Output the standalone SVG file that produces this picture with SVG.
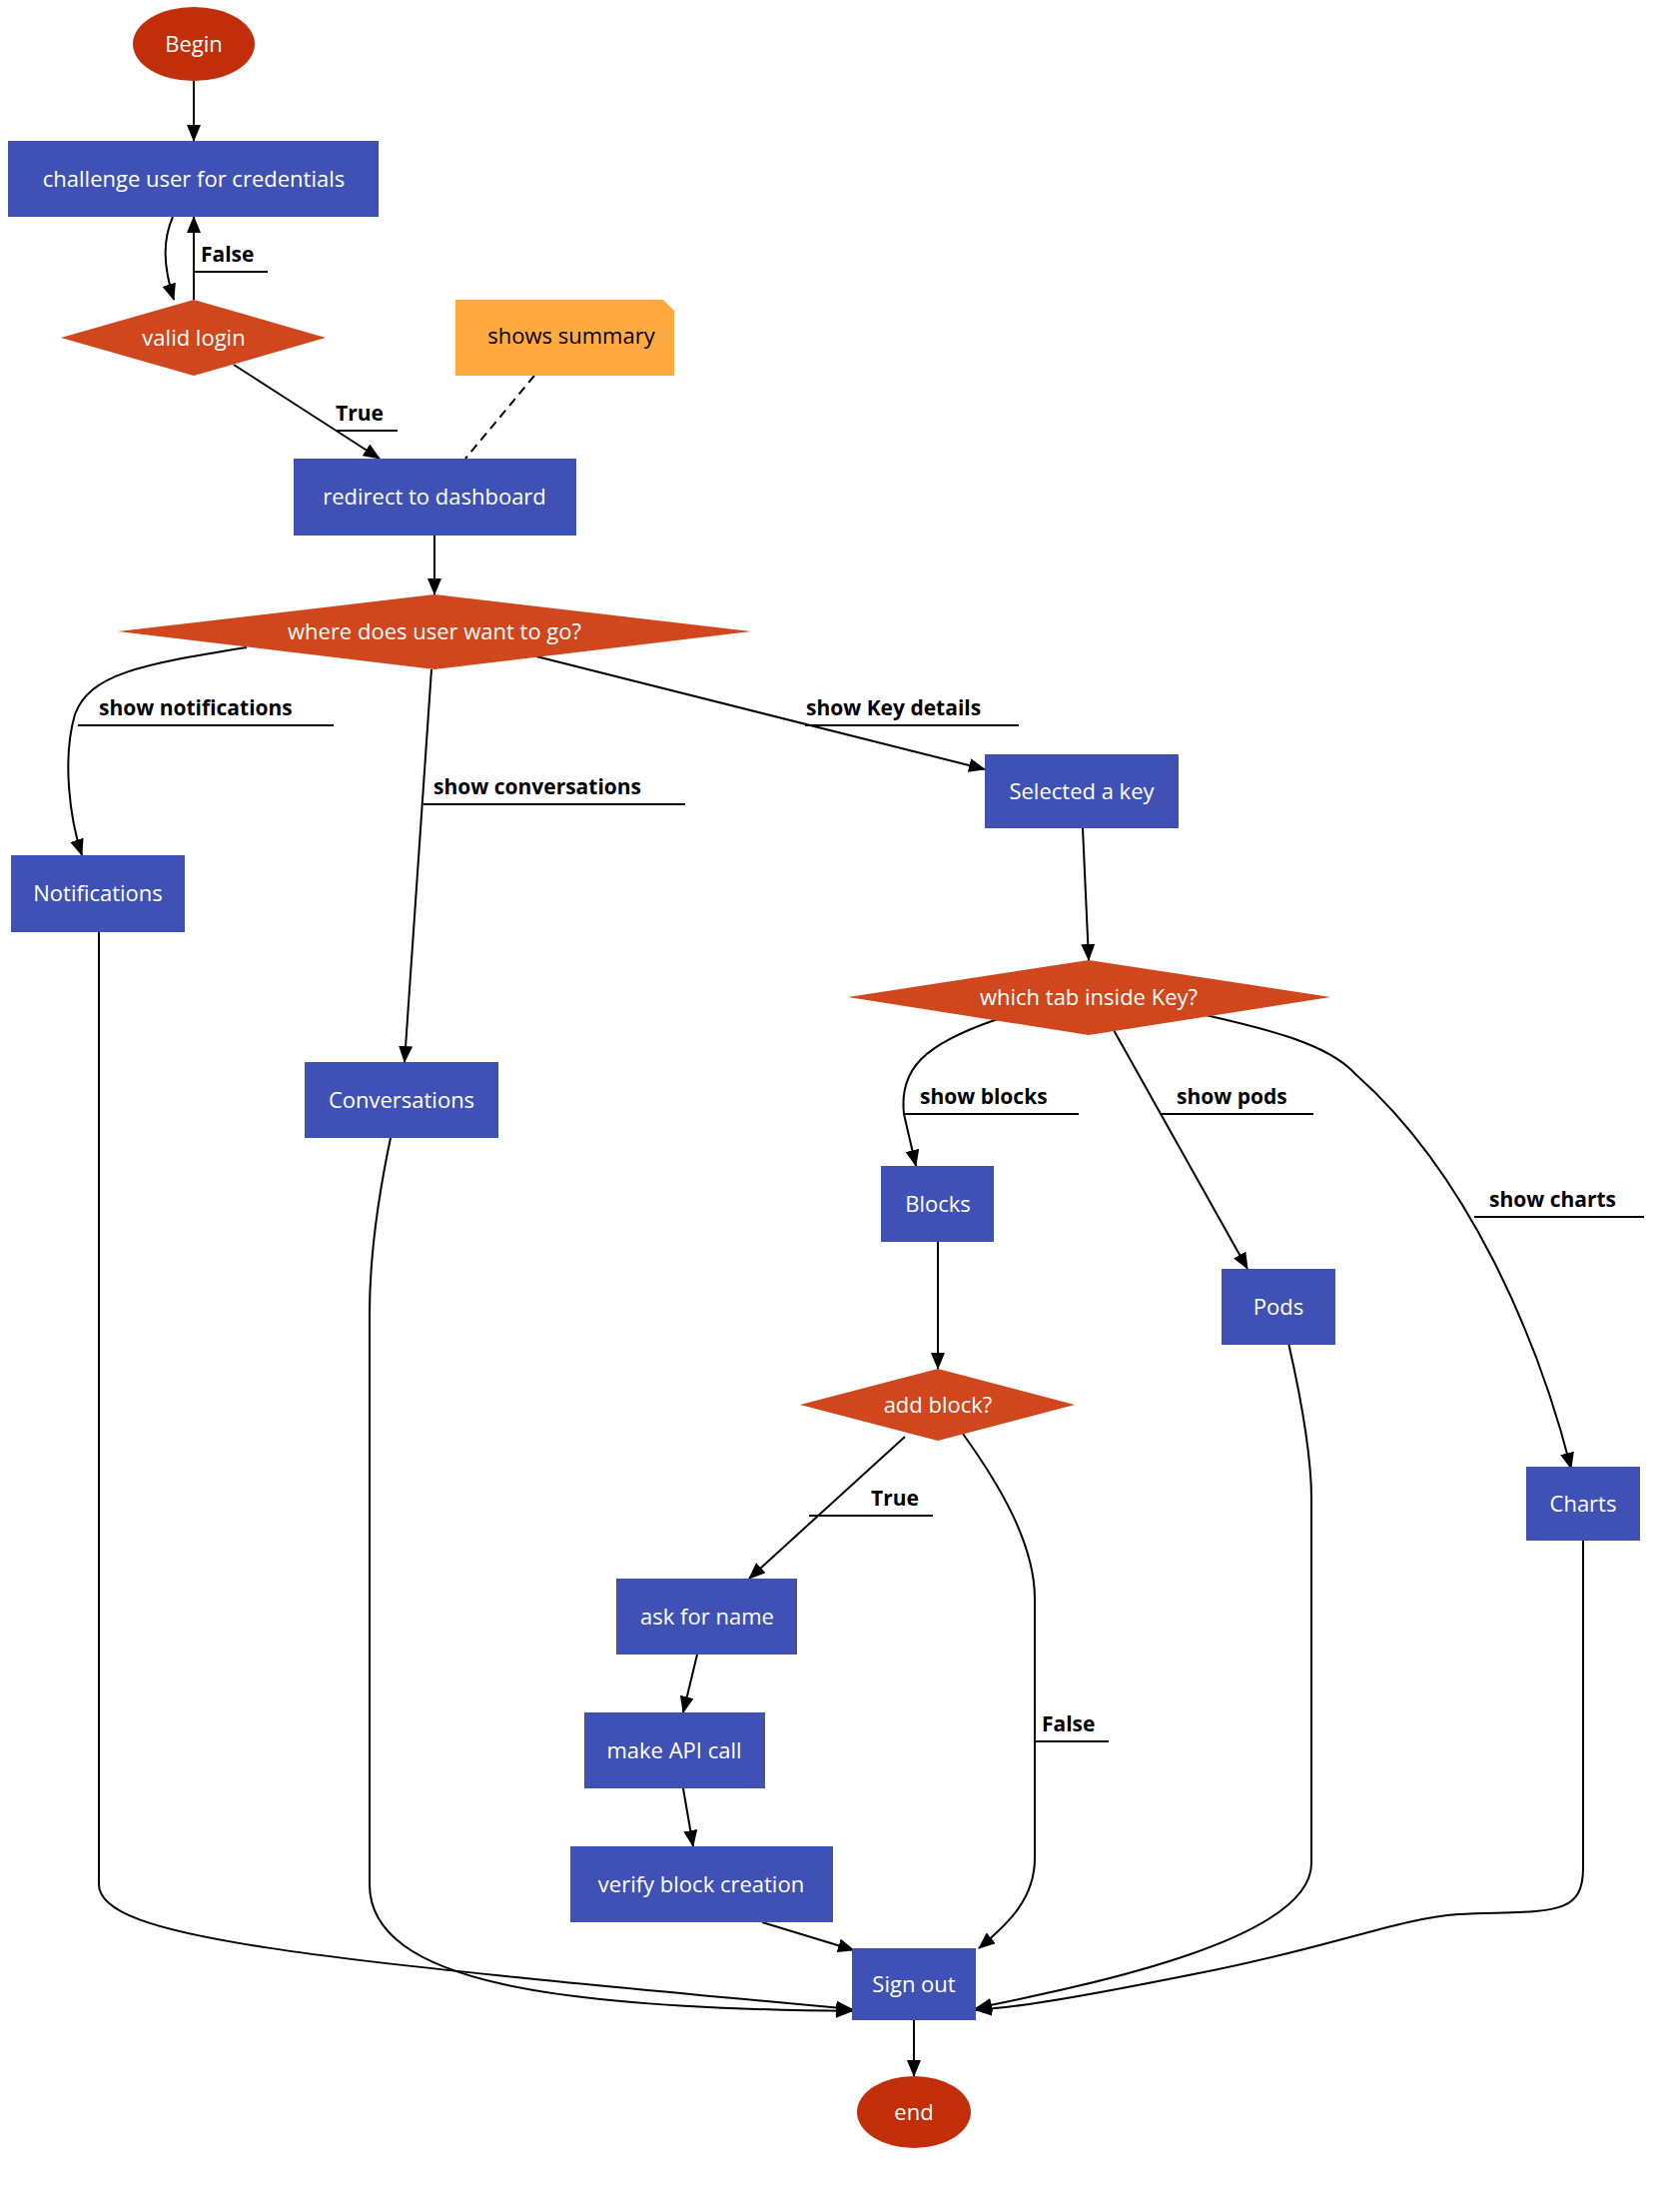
<svg xmlns="http://www.w3.org/2000/svg" width="1667" height="2214" viewBox="0 0 1667 2214">
<defs>
<marker id="ah" markerUnits="userSpaceOnUse" markerWidth="18" markerHeight="14" refX="16" refY="7" orient="auto"><path d="M0,0 L17,7 L0,14 Z" fill="#000"/></marker>
<style>
.box{fill:#4051b5}
.dia{fill:#d0471d}
.ell{fill:#c22e0a}
.t{font-family:"Open Sans","Noto Sans",sans-serif;font-size:22px;fill:#fff;text-anchor:middle}
.e{fill:none;stroke:#000;stroke-width:2;marker-end:url(#ah)}
.ul{stroke:#000;stroke-width:2}
.l{font-family:"Open Sans","Noto Sans",sans-serif;font-size:21px;font-weight:bold;fill:#000}
</style>
</defs>
<rect width="1667" height="2214" fill="#fff"/>
<g id="connectors">
<path class="e" d="M194,81 L194,141"/>
<path class="e" d="M173,217 C163,240 163,265 174,300"/>
<path class="e" d="M194,300 L194,217"/>
<text class="l" x="201" y="262">False</text><line class="ul" x1="194" y1="272" x2="268" y2="272"/>
<path class="e" d="M234,365 L380,459"/>
<text class="l" x="336" y="421">True</text><line class="ul" x1="336" y1="431" x2="398" y2="431"/>
<path d="M535,376 L466,459" fill="none" stroke="#000" stroke-width="2" stroke-dasharray="9,6"/>
<path class="e" d="M435,536 L435,595"/>
<path class="e" d="M247,648 C140,665 90,675 75,715 C62,760 70,820 82,856"/>
<text class="l" x="99" y="716">show notifications</text><line class="ul" x1="78" y1="726" x2="334" y2="726"/>
<path class="e" d="M432,670 L405,1063"/>
<text class="l" x="434" y="795">show conversations</text><line class="ul" x1="424" y1="805" x2="686" y2="805"/>
<path class="e" d="M537,657 L986,770"/>
<text class="l" x="807" y="716">show Key details</text><line class="ul" x1="806" y1="726" x2="1020" y2="726"/>
<path class="e" d="M1084,829 L1090,961"/>
<path class="e" d="M999,1020 C925,1045 900,1070 905,1115 L917,1167"/>
<text class="l" x="921" y="1105">show blocks</text><line class="ul" x1="905" y1="1115" x2="1080" y2="1115"/>
<path class="e" d="M1115,1031 L1249,1270"/>
<text class="l" x="1178" y="1105">show pods</text><line class="ul" x1="1163" y1="1115" x2="1315" y2="1115"/>
<path class="e" d="M1198,1014 C1270,1030 1330,1045 1357,1075 C1470,1175 1540,1340 1573,1470"/>
<text class="l" x="1491" y="1208">show charts</text><line class="ul" x1="1476" y1="1218" x2="1646" y2="1218"/>
<path class="e" d="M939,1243 L939,1370"/>
<path class="e" d="M906,1438 L750,1580"/>
<text class="l" x="872" y="1507">True</text><line class="ul" x1="810" y1="1517" x2="934" y2="1517"/>
<path class="e" d="M964,1435 C1000,1485 1036,1545 1036,1600 L1036,1860 C1036,1900 1010,1925 980,1950"/>
<text class="l" x="1043" y="1733">False</text><line class="ul" x1="1036" y1="1743" x2="1110" y2="1743"/>
<path class="e" d="M698,1656 L684,1714"/>
<path class="e" d="M684,1790 L694,1848"/>
<path class="e" d="M763,1924 L855,1952"/>
<path class="e" d="M99,933 L99,1886 C99,1940 300,1960 853,2011"/>
<path class="e" d="M391,1139 C375,1215 370,1270 370,1315 L370,1886 C370,1985 560,2010 853,2013"/>
<path class="e" d="M1290,1344 C1305,1410 1313,1460 1313,1500 L1313,1865 C1313,1940 1100,1985 977,2010"/>
<path class="e" d="M1585,1540 L1585,1870 C1585,1920 1550,1912 1460,1916 C1400,1920 1330,1950 1200,1975 C1100,1995 1030,2008 977,2012"/>
<path class="e" d="M915,2022 L915,2078"/>
</g>
<g id="begin"><ellipse class="ell" cx="194" cy="44" rx="61" ry="37"/><text class="t" x="194" y="52">Begin</text></g>
<g id="challenge"><rect class="box" x="8" y="141" width="371" height="76"/><text class="t" x="194" y="187">challenge user for credentials</text></g>
<g id="valid"><polygon class="dia" points="61,338 194,300 326,338 194,376"/><text class="t" x="194" y="346">valid login</text></g>
<g id="note"><path d="M456,300 L664,300 L675,311 L675,376 L456,376 Z" fill="#ffaa40"/><text class="t" x="572" y="344" style="fill:#000">shows summary</text></g>
<g id="redirect"><rect class="box" x="294" y="459" width="283" height="77"/><text class="t" x="435" y="505">redirect to dashboard</text></g>
<g id="where"><polygon class="dia" points="118,632 435,595 752,632 435,670"/><text class="t" x="435" y="640">where does user want to go?</text></g>
<g id="notifications"><rect class="box" x="11" y="856" width="174" height="77"/><text class="t" x="98" y="902">Notifications</text></g>
<g id="conversations"><rect class="box" x="305" y="1063" width="194" height="76"/><text class="t" x="402" y="1109">Conversations</text></g>
<g id="selected"><rect class="box" x="986" y="755" width="194" height="74"/><text class="t" x="1083" y="800">Selected a key</text></g>
<g id="which"><polygon class="dia" points="849,998 1090,961 1332,998 1090,1036"/><text class="t" x="1090" y="1006">which tab inside Key?</text></g>
<g id="blocks"><rect class="box" x="882" y="1167" width="113" height="76"/><text class="t" x="939" y="1213">Blocks</text></g>
<g id="pods"><rect class="box" x="1223" y="1270" width="114" height="76"/><text class="t" x="1280" y="1316">Pods</text></g>
<g id="charts"><rect class="box" x="1528" y="1468" width="114" height="74"/><text class="t" x="1585" y="1513">Charts</text></g>
<g id="addblock"><polygon class="dia" points="801,1406 939,1370 1076,1406 939,1442"/><text class="t" x="939" y="1414">add block?</text></g>
<g id="askname"><rect class="box" x="617" y="1580" width="181" height="76"/><text class="t" x="708" y="1626">ask for name</text></g>
<g id="apicall"><rect class="box" x="585" y="1714" width="181" height="76"/><text class="t" x="675" y="1760">make API call</text></g>
<g id="verify"><rect class="box" x="571" y="1848" width="263" height="76"/><text class="t" x="702" y="1894">verify block creation</text></g>
<g id="signout"><rect class="box" x="853" y="1950" width="124" height="72"/><text class="t" x="915" y="1994">Sign out</text></g>
<g id="end"><ellipse class="ell" cx="915" cy="2114" rx="57" ry="36"/><text class="t" x="915" y="2122">end</text></g>
</svg>
